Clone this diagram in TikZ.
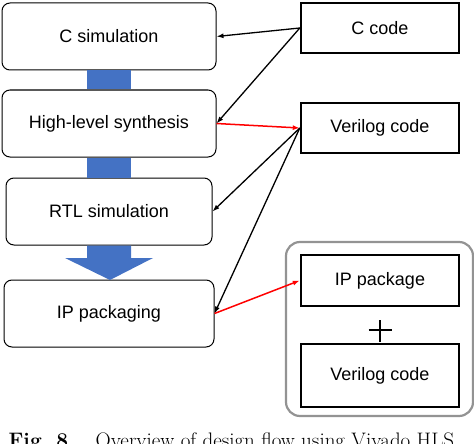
\documentclass[tikz,border=0pt]{standalone}
\usepackage{fontspec}
\newfontfamily\flowfont{Liberation Sans}
\usetikzlibrary{arrows.meta}
\definecolor{flowblue}{HTML}{4472C4}

\begin{document}
\begin{tikzpicture} [x=1pt,y=-1pt,
  step box/.style= {shape=rectangle,rounded corners=8pt,draw,line width=1pt,font=\flowfont\fontsize{18}{20}\selectfont,inner sep=0},
  code box/.style= {shape=rectangle,draw,line width=2.4pt,minimum width=158pt,font=\flowfont\fontsize{18}{20}\selectfont,inner sep=0},
  blk/.style= {-{Latex[length=7pt,width=5pt]}, line width=1.3pt},
  redarr/.style= {-{Latex[length=7pt,width=5pt]}, line width=1.5pt, red}]
\useasboundingbox (0,0) rectangle (474,444);
\clip (0,0) rectangle (474,444);

\node[step box,minimum width=214pt,minimum height=67pt] (csim) at (109,36.5) {C simulation};
\node[step box,minimum width=214pt,minimum height=67pt] (hls) at (109,123.5) {High-level synthesis};
\node[step box,minimum width=206pt,minimum height=67pt] (rtl) at (109,211.5) {RTL simulation};
\node[step box,minimum width=210pt,minimum height=67pt] (ippkg) at (109,313.5) {IP packaging};

\fill[flowblue] (87,70.5) rectangle (131,89.5);
\fill[flowblue] (87,157.5) rectangle (131,177.5);
\fill[flowblue] (87,245.5) -- (131,245.5) -- (131,258) -- (153,258) -- (110,280) -- (65,258) -- (87,258) -- cycle;

\node[code box,minimum height=50pt] (ccode) at (380,28) {C code};
\node[code box,minimum height=50pt] (vcode) at (380,128) {Verilog code};

\node[shape=rectangle,rounded corners=14pt,draw=gray!85,line width=2.2pt,minimum width=187pt,minimum height=174pt] (ipset) at (379.5,329) {};
\node[code box,minimum height=51pt] (ippack) at (380,280.5) {IP package};
\node[code box,minimum height=63pt] (vcode2) at (380,375.5) {Verilog code};
\draw[line width=2.2pt] (368.5,330) -- (391.5,330) (380,320) -- (380,342);

\draw[blk] (ccode.west) -- (csim.east);
\draw[blk] (ccode.west) -- (hls.east);
\draw[redarr] (hls.east) -- (vcode.west);
\draw[blk] (vcode.west) -- (rtl.east);
\draw[blk] (vcode.west) -- (ippkg.east);
\draw[redarr] (ippkg.east) -- (ippack.west);

\node[anchor=base,font=\fontsize{21}{24}\selectfont] (cap) at (234,447) {\textbf{Fig.~8.}\quad Overview of design flow using Vivado HLS.};
\end{tikzpicture}
\end{document}
